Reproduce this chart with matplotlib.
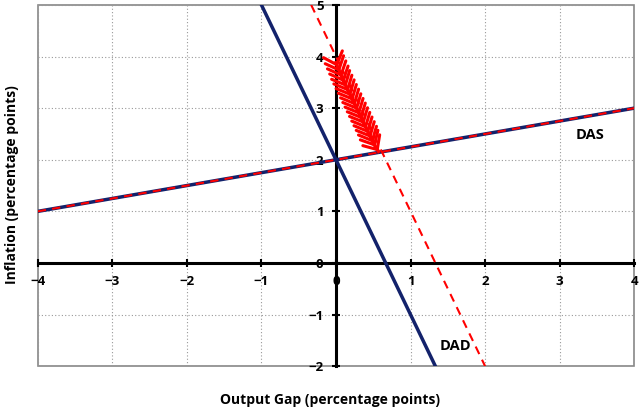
import matplotlib.pyplot as plt
from matplotlib.patches import Rectangle

plt.rcParams['font.family'] = ['Open Sans', 'DejaVu Sans']

# DAS curve and DAD curves (before / after shock)
das_x = [-4, 4]
das_y = [1, 3]
dad_x = [-1, 1.333]
dad_y = [5, -2]
dad2_x = [-0.333, 2]
dad2_y = [5, -2]

# adjustment path
path_x = [0.00, 0.02, 0.05, 0.08, 0.11, 0.14, 0.17, 0.20, 0.23, 0.26,
          0.29, 0.32, 0.35, 0.38, 0.41, 0.44, 0.47, 0.50, 0.53, 0.57]
path_y = [3.88, 3.80, 3.70, 3.60, 3.50, 3.41, 3.32, 3.23, 3.14, 3.05,
          2.96, 2.87, 2.78, 2.69, 2.60, 2.51, 2.42, 2.33, 2.25, 2.16]

xticks = [-4, -3, -2, -1, 0, 1, 2, 3, 4]
yticks = [-2, -1, 0, 1, 2, 3, 4, 5]

fig = plt.figure(figsize=(6.4, 4.11), dpi=100)
ax = fig.add_axes([0.059, 0.109, 0.932, 0.879])

ax.plot(das_x, das_y, color='#13226b', lw=2.5, zorder=3)
ax.plot(das_x, das_y, color='red', lw=1.5, ls=(0, (4, 3)), zorder=4)
ax.plot(dad_x, dad_y, color='#13226b', lw=2.5, zorder=3)
ax.plot(dad2_x, dad2_y, color='red', lw=1.5, ls=(0, (4, 3)), zorder=4)

ax.plot(path_x, path_y, color='red', lw=2.5, zorder=5)
for i in range(len(path_x) - 1):
    ax.annotate('', xy=(path_x[i + 1], path_y[i + 1]), xytext=(path_x[i], path_y[i]),
                arrowprops=dict(arrowstyle='->,head_length=0.5,head_width=0.45',
                                color='red', lw=2.2, mutation_scale=16,
                                shrinkA=0, shrinkB=0),
                zorder=5)

ax.set_xlim(-4, 4)
ax.set_ylim(-2, 5)
ax.set_xticks(xticks)
ax.set_yticks(yticks)
ax.grid(True, color='#999999', ls=(0, (1, 2)), lw=0.8)

ax.spines['left'].set_position(('data', 0))
ax.spines['bottom'].set_position(('data', 0))
for s in ['left', 'bottom']:
    ax.spines[s].set_linewidth(2.2)
    ax.spines[s].set_color('black')
    ax.spines[s].set_zorder(2.5)
for s in ['top', 'right']:
    ax.spines[s].set_visible(False)
ax.add_patch(Rectangle((0, 0), 1, 1, transform=ax.transAxes, fill=False,
                       ec='#888888', lw=1.2, clip_on=False, zorder=1))

ax.tick_params(direction='inout', length=6, width=1.5, labelsize=9.5, pad=6)
for lab in ax.get_xticklabels() + ax.get_yticklabels():
    lab.set_fontweight('bold')

ax.text(3.4, 2.48, 'DAS', fontsize=10.5, fontweight='bold', ha='center', va='center')
ax.text(1.6, -1.6, 'DAD', fontsize=10.5, fontweight='bold', ha='center', va='center')

fig.text(0.516, 0.027, 'Output Gap (percentage points)', fontsize=10,
         fontweight='bold', ha='center', va='center')
fig.text(0.018, 0.55, 'Inflation (percentage points)', fontsize=10,
         fontweight='bold', ha='center', va='center', rotation=90)

fig.savefig('out.png', dpi=100)
